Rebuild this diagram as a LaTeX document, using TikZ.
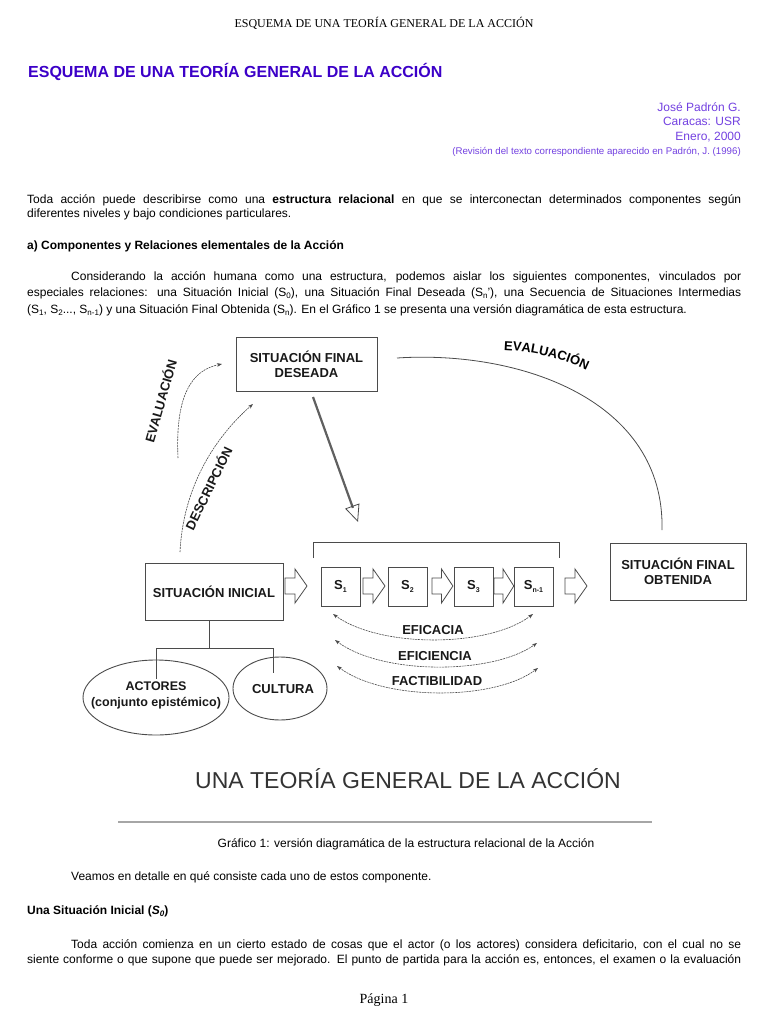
\documentclass[tikz,border=0pt]{standalone}
\usepackage{fontspec}
\setmainfont{Liberation Sans}
\newfontfamily\timesf{Liberation Serif}
\usetikzlibrary{arrows.meta,calc,shapes.geometric,decorations.text}
\definecolor{titlec}{RGB}{60,0,200}
\definecolor{authc}{RGB}{115,65,225}
\definecolor{dline}{RGB}{75,75,75}
\definecolor{dtext}{RGB}{25,25,25}
\newcommand\sbx[1]{\raisebox{-0.35ex}{\fontsize{8}{8}\selectfont #1}}
\newcommand\dsb[1]{\raisebox{-0.45ex}{\fontsize{7}{7}\selectfont\bfseries #1}}
\newcommand\bodyf{\fontsize{12}{14}\selectfont}
\newcommand\dfont{\fontsize{13}{15}\selectfont\bfseries}
\tikzset{
  txt/.style={inner sep=0pt, anchor=base west, font=\bodyf},
  dbox/.style={draw=dline, line width=0.9pt, inner sep=0pt, font=\dfont, text=dtext, align=center},
  lab/.style={inner sep=0pt, font=\dfont, text=dtext, align=center},
  dline/.style={draw=dline, line width=0.9pt},
  curv/.style={draw=dline, line width=0.6pt, dash pattern=on 2pt off 0.8pt},
  tipS/.style={-{Stealth[length=5pt,width=3.6pt]}},
  barrow/.pic={\draw[dline, line width=0.8pt, line join=miter] (0,-8) -- (10,-8) -- (10,-17) -- (22,0) -- (10,17) -- (10,8) -- (0,8) -- cycle;}
}
\begin{document}
\begin{tikzpicture}[x=1pt,y=-1pt]
\useasboundingbox (0,0) rectangle (768,1024);
\fill[white] (0,0) rectangle (768,1024);

% header / footer
\node[inner sep=0pt, anchor=base, font=\timesf\fontsize{12}{14}\selectfont] (hdr) at (384,28) {ESQUEMA DE UNA TEORÍA GENERAL DE LA ACCIÓN};
\node[inner sep=0pt, anchor=base, font=\timesf\fontsize{14}{16}\selectfont] (ftr) at (384,1003) {Página 1};

% title and author
\node[inner sep=0pt, anchor=base west, font=\fontsize{16}{18}\selectfont\bfseries, text=titlec] (title) at (28,78) {ESQUEMA DE UNA TEORÍA GENERAL DE LA ACCIÓN};
\node[txt, anchor=base east, text=authc] (au1) at (741,112) {José Padrón G.};
\node[txt, anchor=base east, text=authc] (au2) at (741,126) {Caracas: USR};
\node[txt, anchor=base east, text=authc] (au3) at (741,141) {Enero, 2000};
\node[txt, anchor=base east, text=authc, font=\fontsize{9.7}{11}\selectfont] (au4) at (741,155) {(Revisión del texto correspondiente aparecido en Padrón, J. (1996)};

% body text
\node[txt] (l1) at (27,204) {\makebox[714pt][s]{Toda acción puede describirse como una \textbf{estructura relacional} en que se interconectan determinados componentes según}};
\node[txt] (l2) at (27,218) {diferentes niveles y bajo condiciones particulares.};
\node[txt, font=\bodyf\bfseries] (l3) at (27,249) {a) Componentes y Relaciones elementales de la Acción};
\node[txt] (l4) at (71,280) {\makebox[670pt][s]{Considerando la acción humana como una estructura, podemos aislar los siguientes componentes, vinculados por}};
\node[txt] (l5) at (27,296) {\makebox[714pt][s]{especiales relaciones: una Situación Inicial (S\sbx{0}), una Situación Final Deseada (S\sbx{n}’), una Secuencia de Situaciones Intermedias}};
\node[txt] (l6) at (27,313) {(S\sbx{1}, S\sbx{2}..., S\sbx{n-1}) y una Situación Final Obtenida (S\sbx{n}). En el Gráfico 1 se presenta una versión diagramática de esta estructura.};

% ---------------- diagram ----------------
\node[dbox, minimum width=141pt, minimum height=54pt] (deseada) at (306.5,364.5) {SITUACIÓN FINAL\\DESEADA};
\node[dbox, minimum width=138pt, minimum height=57pt] (inicial) at (214,591.5) {SITUACIÓN INICIAL};
\node[dbox, minimum width=136pt, minimum height=57pt] (obtenida) at (678,571.5) {SITUACIÓN FINAL\\OBTENIDA};
\node[dbox, minimum width=39pt, minimum height=39pt] (s1) at (340.5,586.5) {S\dsb{1}};
\node[dbox, minimum width=39pt, minimum height=39pt] (s2) at (407.5,586.5) {S\dsb{2}};
\node[dbox, minimum width=39pt, minimum height=39pt] (s3) at (473.5,586.5) {S\dsb{3}};
\node[dbox, minimum width=39pt, minimum height=39pt] (sn1) at (533.5,586.5) {S\dsb{n-1}};
\node[dbox, ellipse, minimum width=146pt, minimum height=75pt] (actores) at (156,697.5) {};
\node[dbox, ellipse, minimum width=94pt, minimum height=63pt] (cultura) at (280,688.5) {};
\node[lab, font=\fontsize{12.5}{16}\selectfont\bfseries] (actT) at (156,695) {ACTORES\\(conjunto epistémico)};
\node[lab] (culT) at (283,689) {CULTURA};

% block arrows of the sequence
\pic at (285,586) {barrow};
\pic at (363,586) {barrow};
\pic[xscale=0.95] at (432,586) {barrow};
\pic[xscale=0.9] at (494,586) {barrow};
\pic at (565,586) {barrow};

% bracket over the sequence
\coordinate (brL) at (313,558);
\coordinate (brR) at (559,558);
\draw[dline] (brL) -- (brL |- obtenida.north) -- (brR |- obtenida.north) -- (brR);

% tree below situacion inicial
\coordinate (tj) at (209,648);
\draw[dline] (inicial.south -| tj) -- (tj);
\draw[dline] (actores.center |- tj) -- ($(cultura.center |- tj)+(-7,0)$);
\draw[dline] (actores.center |- tj) -- ++(0,31);
\draw[dline] ($(cultura.center |- tj)+(-7,0)$) -- ++(0,25);

% arrow deseada -> sequence (double/hollow)
\coordinate (dstart) at (313,397);
\coordinate (tipD) at (358,522);
\draw[draw=gray!75!black, line width=2.2pt, shorten >=15pt] (dstart) -- (tipD);
\draw[draw=dline, line width=0.8pt, -{Triangle[open,length=17pt,width=15pt]}] ($(tipD)!17pt!(dstart)$) -- (tipD);

% left evaluation and description arrows
\coordinate (evS) at (178,458);
\coordinate (evE) at (222,364);
\draw[curv, tipS] (evS) .. controls (175,395) and (192,370) .. (evE);
\coordinate (deS) at (180,552);
\coordinate (deE) at (253,404);
\draw[curv, tipS] (deS) .. controls (183,490) and (212,440) .. (deE);
\node[lab, rotate=74] (evL) at (160,401) {EVALUACIÓN};
\node[lab, rotate=64] (descr) at (208,488) {DESCRIPCIÓN};

% top right evaluation arc
\coordinate (erS) at (397,358);
\coordinate (erE) at (662,530);
\draw[dline, line width=0.8pt] (erS) .. controls (520,350) and (665,400) .. (erE);
\path[decorate, decoration={text along path, text={|\dfont|EVALUACIÓN}, text align=center}] (490,350) .. controls (528,349) and (566,358) .. (599,377);

% efficacy arcs
\coordinate (a1) at (333,614); \coordinate (b1) at (533,614);
\coordinate (a2) at (335,640); \coordinate (b2) at (537,643);
\coordinate (a3) at (337,666); \coordinate (b3) at (538,668);
\draw[curv, {Stealth[length=5pt,width=3.6pt]}-{Stealth[length=5pt,width=3.6pt]}] (a1) .. controls (380,648) and (488,648) .. (b1);
\draw[curv, {Stealth[length=5pt,width=3.6pt]}-{Stealth[length=5pt,width=3.6pt]}] (a2) .. controls (382,675) and (492,675) .. (b2);
\draw[curv, {Stealth[length=5pt,width=3.6pt]}-{Stealth[length=5pt,width=3.6pt]}] (a3) .. controls (384,701) and (494,701) .. (b3);
\node[lab] (efic) at (433,630) {EFICACIA};
\node[lab] (efie) at (435,656) {EFICIENCIA};
\node[lab] (fact) at (437,681) {FACTIBILIDAD};

% big title and rule
\node[inner sep=0pt, anchor=base, font=\fontsize{23}{26}\selectfont, text=black!80] (big) at (408,788) {UNA TEORÍA GENERAL DE LA ACCIÓN};
\coordinate (ruleL) at (118,822);
\coordinate (ruleR) at (652,822);
\draw[gray!70, line width=1.5pt] (ruleL) -- (ruleR);

% caption and following text
\node[txt, anchor=base] (cap) at (406,847) {Gráfico 1: versión diagramática de la estructura relacional de la Acción};
\node[txt] (l7) at (71,880) {Veamos en detalle en qué consiste cada uno de estos componente.};
\node[txt, font=\bodyf\bfseries] (l8) at (27,914) {Una Situación Inicial (\textit{S}\sbx{\bfseries\itshape 0})};
\node[txt] (l9) at (71,948) {\makebox[670pt][s]{Toda acción comienza en un cierto estado de cosas que el actor (o los actores) considera deficitario, con el cual no se}};
\node[txt] (l10) at (27,963) {\makebox[714pt][s]{siente conforme o que supone que puede ser mejorado. El punto de partida para la acción es, entonces, el examen o la evaluación}};
\end{tikzpicture}
\end{document}
